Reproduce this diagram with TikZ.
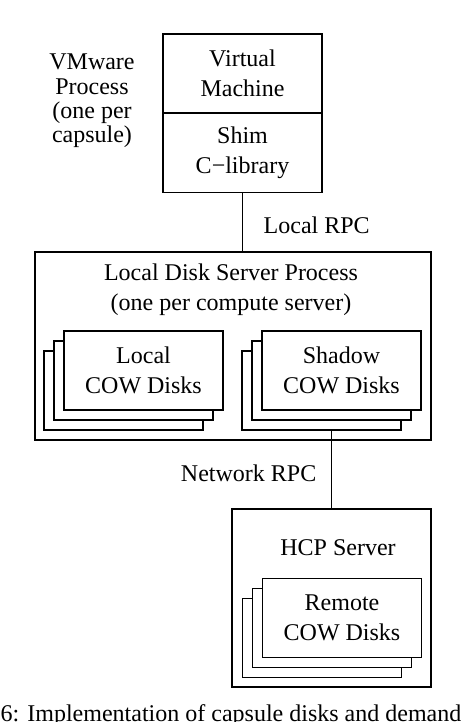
\documentclass[tikz,border=0pt]{standalone}
\usepackage{fontspec}
\setmainfont{Liberation Serif}
\begin{document}
\begin{tikzpicture}[x=0.5pt,y=-0.5pt, line width=0.7pt,
  font=\fontsize{12}{15}\selectfont,
  box/.style={draw, fill=white, inner sep=0pt, align=center},
  disk/.style={box, minimum width=79.5pt, minimum height=39.5pt},
  lbl/.style={inner sep=0pt, align=center}]
\clip (0,0) rectangle (466,722);
% VMware process
\node[disk] (vm) at (242.5,73.5) {Virtual\\Machine};
\node[disk] (shim) at (242.5,153) {Shim\\C−library};
\node[lbl, font=\fontsize{12}{12.2}\selectfont] (vmlbl) at (92,101) {VMware\\Process\\(one per\\capsule)};
% Local disk server
\node[box, minimum width=198pt, minimum height=94pt] (lds) at (233,346) {};
\node[lbl] (ldstitle) at (231,290) {Local Disk Server Process\\(one per compute server)};
\node[disk] (lb3) at (123.5,390.5) {};
\node[disk] (lb2) at (133.5,380.5) {};
\node[disk] (lb1) at (143.5,370.5) {Local\\COW Disks};
\node[disk] (sb3) at (321.5,390.5) {};
\node[disk] (sb2) at (331.5,380.5) {};
\node[disk] (sb1) at (341.5,370.5) {Shadow\\COW Disks};
% HCP server
\node[box, minimum width=99.5pt, minimum height=89pt] (hcp) at (331.5,598) {};
\node[lbl] (hcptitle) at (338,548) {HCP Server};
\node[disk] (rb3) at (322,638) {};
\node[disk] (rb2) at (332,628) {};
\node[disk] (rb1) at (342,618) {Remote\\COW Disks};
% connectors
\draw (shim.south) -- (shim.south |- lds.north);
\draw (hcp.north) -- (hcp.north |- sb3.south);
\node[lbl, anchor=west] (lrpc) at (263,225) {Local RPC};
\node[lbl, anchor=east] (nrpc) at (317,473) {Network RPC};
% caption (cut off)
\node[inner sep=0pt, anchor=base east] (cap) at (462,721) {6: Implementation of capsule disks and demand};
\end{tikzpicture}
\end{document}
